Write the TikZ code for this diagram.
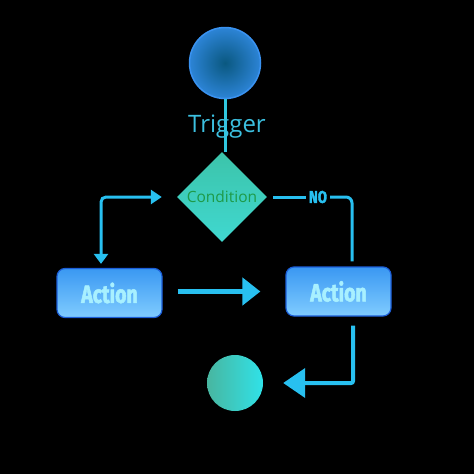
\documentclass[tikz,border=0pt]{standalone}
\usepackage{fontspec}
\setmainfont{Open Sans}
\newfontfamily\actfont[FakeStretch=0.78, BoldFeatures={FakeBold=2}]{Fira Sans}
\usetikzlibrary{shapes.geometric,arrows.meta,calc}
\definecolor{lineblue}{HTML}{28C0F0}
\definecolor{trigline}{HTML}{30C8E0}
\definecolor{boxtop}{HTML}{3A98F2}
\definecolor{boxbot}{HTML}{80CCFF}
\definecolor{boxedge}{HTML}{1C5ED8}
\definecolor{acttext}{HTML}{A8F0FF}
\definecolor{condtext}{HTML}{1E9A48}
\tikzset{
  actbox/.style={rectangle, rounded corners=8pt, minimum width=105pt, minimum height=49pt,
    top color=boxtop, bottom color=boxbot, draw=boxedge, line width=1.2pt,
    text=acttext, font=\actfont\bfseries\fontsize{25}{25}\selectfont, inner sep=0pt},
  conn/.style={draw=lineblue, line width=3pt},
}
\begin{document}
\begin{tikzpicture}[x=1pt,y=-1pt]
\fill[black] (0,0) rectangle (474,474);
\useasboundingbox (0,0) rectangle (474,474);
% nodes
\node[circle, minimum size=71pt, inner sep=0pt, inner color={rgb,255:red,10;green,88;blue,128},
  outer color={rgb,255:red,44;green,132;blue,214}, draw={rgb,255:red,58;green,146;blue,240}, line width=1.5pt] (trig) at (225,63) {};
\node[diamond, aspect=1, minimum width=90pt, minimum height=90pt, inner sep=0pt,
  top color={rgb,255:red,60;green,196;blue,170}, bottom color={rgb,255:red,64;green,216;blue,208},
  text=condtext, font=\fontsize{15.5}{15.5}\selectfont] (cond) at (222,197) {Condition};
\draw[draw=trigline, line width=3pt] (trig) -- (trig |- cond.north);
\node[text={rgb,255:red,60;green,192;blue,224}, font=\fontsize{24}{24}\selectfont, inner sep=0pt] (trigtxt) at (227,127) {Trigger};
\node[actbox] (act1) at (109.5,293) {Action};
\node[actbox] (act2) at (338.5,291.5) {Action};
\node[circle, minimum size=56pt, inner sep=0pt, left color={rgb,255:red,72;green,182;blue,160},
  right color={rgb,255:red,48;green,226;blue,232}] (endc) at (235,383) {};
\node[text=lineblue, font=\actfont\bfseries\fontsize{17}{17}\selectfont, inner sep=3pt] (no) at (318,197) {NO};
% connectors
\draw[conn, rounded corners=5pt, {Triangle[width=14pt,length=10pt]}-{Triangle[width=14pt,length=11pt]},
  shorten <=4pt, shorten >=15pt] ([xshift=-8.5pt]act1.north) |- (cond);
\draw[conn, line width=5pt, -{Triangle[width=27pt,length=18pt]}, shorten <=15pt, shorten >=25pt]
  (act1.east |- act2.west) -- (act2.west);
\draw[conn, line width=4pt, rounded corners=2pt, -{Triangle[width=29pt,length=22pt]}, shorten <=9pt, shorten >=20pt]
  ([xshift=14.5pt]act2.south) |- (endc);
\draw[conn, shorten <=6pt] (cond.east) -- (cond.east -| no.west);
\draw[conn, rounded corners=6pt, shorten >=5pt] (no.east) -| ([xshift=13.5pt]act2.north);
\end{tikzpicture}
\end{document}
